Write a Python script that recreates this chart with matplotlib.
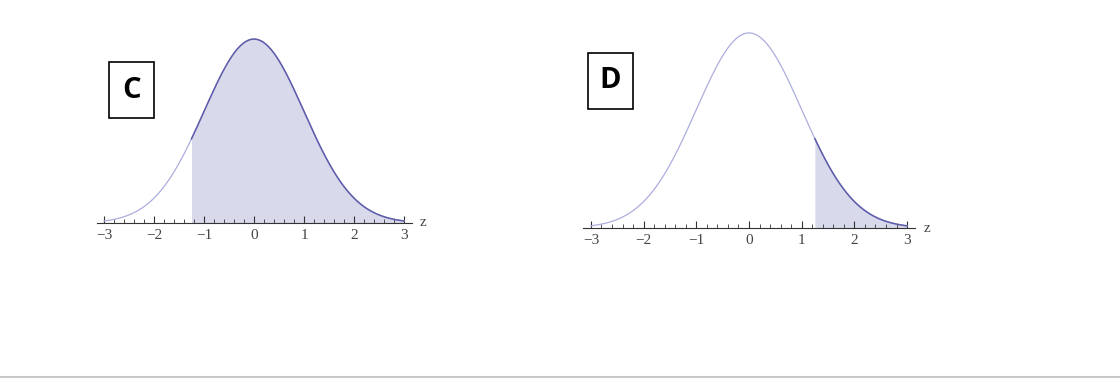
import numpy as np
import matplotlib

matplotlib.use("Agg")
import matplotlib.pyplot as plt
from matplotlib.patches import Rectangle
from matplotlib.ticker import FixedLocator

W, H = 1120, 382

panel_labels = ["C", "D"]
shade_from = [-1.25, 1.25]
shade_to = [3.0, 3.0]
tick_values = [-3, -2, -1, 0, 1, 2, 3]
tick_labels = ["\u22123", "\u22122", "\u22121", "0", "1", "2", "3"]
minor_values = [v / 5 for v in range(-15, 16) if v % 5 != 0]

# pixel layout per panel: x of z=0, px per z unit, baseline y, px per density unit
layouts = [
    dict(cx=254, sx=50.0, by=223, sy=461.0, box=(109, 62, 45, 56)),
    dict(cx=749, sx=52.7, by=228, sy=489.0, box=(588, 53, 45, 56)),
]

LIGHT = "#adaddf"
DARK = "#5d5daa"
FILL = "#d9d9ec"


def normal_pdf(z):
    return np.exp(-0.5 * z**2) / np.sqrt(2 * np.pi)


fig = plt.figure(figsize=(W / 100, H / 100), dpi=100)

for label, lo, hi, lay in zip(panel_labels, shade_from, shade_to, layouts):
    xlim = (-3.4, 3.5)
    ylim = (-0.06, 0.43)
    left = lay["cx"] + lay["sx"] * xlim[0]
    width = lay["sx"] * (xlim[1] - xlim[0])
    bottom_px = lay["by"] - lay["sy"] * ylim[0]
    height = lay["sy"] * (ylim[1] - ylim[0])
    ax = fig.add_axes([left / W, 1 - bottom_px / H, width / W, height / H])
    ax.set_xlim(*xlim)
    ax.set_ylim(*ylim)

    z = np.linspace(-3, 3, 600)
    ax.plot(z, normal_pdf(z), color=LIGHT, lw=0.9)
    zs = np.linspace(lo, hi, 400)
    ax.fill_between(zs, 0, normal_pdf(zs), color=FILL, lw=0)
    ax.plot(zs, normal_pdf(zs), color=DARK, lw=1.1)

    for side in ("top", "right", "left"):
        ax.spines[side].set_visible(False)
    ax.spines["bottom"].set_position(("data", 0))
    ax.spines["bottom"].set_bounds(-3.15, 3.15)
    ax.spines["bottom"].set_color("#333333")
    ax.spines["bottom"].set_linewidth(0.8)
    ax.set_yticks([])
    ax.set_xticks(tick_values)
    ax.set_xticklabels(tick_labels, family="Liberation Serif", fontsize=11, color="#444444")
    ax.xaxis.set_minor_locator(FixedLocator(minor_values))
    ax.tick_params(axis="x", which="major", direction="in", length=5, width=0.8,
                   color="#333333", pad=4)
    ax.tick_params(axis="x", which="minor", direction="in", length=3, width=0.6,
                   color="#333333")
    ax.text(3.32, 0.0, "z", family="Liberation Serif", fontsize=11, color="#444444",
            ha="left", va="center")
    ax.patch.set_alpha(0)

    bx, by, bw, bh = lay["box"]
    fig.patches.append(Rectangle((bx / W, 1 - (by + bh) / H), bw / W, bh / H,
                                 transform=fig.transFigure, fill=False,
                                 edgecolor="black", lw=1.2))
    fig.text((bx + bw / 2) / W, 1 - (by + bh / 2) / H, label, family="Open Sans",
             fontweight="bold", fontsize=21, ha="center", va="center")

fig.add_artist(plt.Line2D([0, 1], [1 - 377 / H, 1 - 377 / H], transform=fig.transFigure,
                          color="#c8c8c8", lw=1.5))

fig.savefig("out.png", dpi=100)
